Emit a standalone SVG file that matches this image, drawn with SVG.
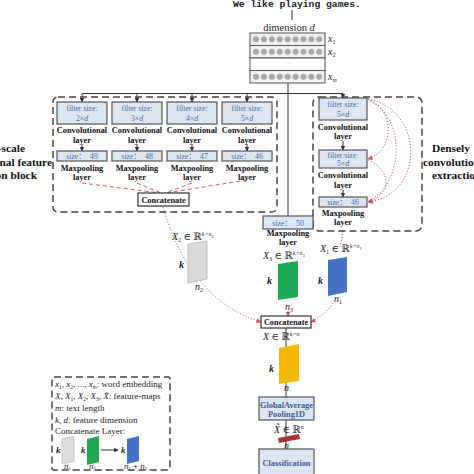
<svg xmlns="http://www.w3.org/2000/svg" width="474" height="474" viewBox="0 0 474 474">
<defs>
<style>
.fb{fill:#dce6f2;stroke:#555;stroke-width:1.2}
.ft{font-family:"Liberation Serif","DejaVu Serif","Noto Sans CJK SC",serif;font-size:7.8px;fill:#4a6a9e;text-anchor:middle}
.bl{font-family:"Liberation Serif","DejaVu Serif",serif;font-size:8.3px;font-weight:bold;fill:#111;text-anchor:middle}
.bb{font-family:"Liberation Serif","DejaVu Serif",serif;font-size:8.3px;font-weight:bold;fill:#3c5a96;text-anchor:middle}
.side{font-family:"Liberation Serif","DejaVu Serif",serif;font-size:11.4px;font-weight:bold;fill:#111}
.ln{stroke:#333;stroke-width:1;fill:none}
.rd{stroke:#c55a5a;stroke-width:1;stroke-dasharray:4 3;fill:none}
.rdt{stroke:#c55a5a;stroke-width:1;stroke-dasharray:1.2 1.8;fill:none}
.dbox{fill:none;stroke:#444;stroke-width:1.5;stroke-dasharray:7 4}
.m{font-family:"Liberation Serif","DejaVu Serif",serif;font-style:italic;font-size:10px;fill:#222}
.lg{font-family:"Liberation Serif","DejaVu Serif",serif;font-size:9px;fill:#222}
.cc{fill:#fff;stroke:#333;stroke-width:1.2}
.dot{fill:#a9a9a9}
.row{fill:#f2f2f2;stroke:#555;stroke-width:1}
</style>
<marker id="ah" markerWidth="5" markerHeight="5" refX="4.5" refY="2.5" orient="auto" markerUnits="userSpaceOnUse"><path d="M0,0 L5,2.5 L0,5 z" fill="#333"/></marker>
<marker id="rh" markerWidth="5" markerHeight="5" refX="4.5" refY="2.5" orient="auto" markerUnits="userSpaceOnUse"><path d="M0,0 L5,2.5 L0,5 z" fill="#c55a5a"/></marker>
</defs>
<rect width="474" height="474" fill="#fff"/>

<g id="input">
<text x="233" y="7" font-family="Liberation Mono, monospace" font-size="9.7" font-weight="bold" fill="#222">We like playing games.</text>
<line class="ln" x1="292" y1="10" x2="292" y2="20"/>
<text x="289" y="31" font-family="Liberation Serif, serif" font-size="10.5" text-anchor="middle" fill="#222">dimension <tspan font-style="italic">d</tspan></text>
</g>

<g id="embedding">
<rect class="row" x="250" y="33" width="75" height="12.5"/>
<rect class="row" x="250" y="45.5" width="75" height="12.5"/>
<rect x="250" y="58" width="75" height="12.5" fill="#fff" stroke="#555"/>
<rect class="row" x="250" y="70.5" width="75" height="12.5"/>
<g class="dot">
<circle cx="256" cy="39.3" r="3"/><circle cx="263.9" cy="39.3" r="3"/><circle cx="271.8" cy="39.3" r="3"/><circle cx="279.7" cy="39.3" r="3"/><circle cx="287.6" cy="39.3" r="3"/><circle cx="295.5" cy="39.3" r="3"/><circle cx="303.4" cy="39.3" r="3"/><circle cx="311.3" cy="39.3" r="3"/><circle cx="319.2" cy="39.3" r="3"/>
<circle cx="256" cy="51.8" r="3"/><circle cx="263.9" cy="51.8" r="3"/><circle cx="271.8" cy="51.8" r="3"/><circle cx="279.7" cy="51.8" r="3"/><circle cx="287.6" cy="51.8" r="3"/><circle cx="295.5" cy="51.8" r="3"/><circle cx="303.4" cy="51.8" r="3"/><circle cx="311.3" cy="51.8" r="3"/><circle cx="319.2" cy="51.8" r="3"/>
<circle cx="256" cy="76.8" r="3"/><circle cx="263.9" cy="76.8" r="3"/><circle cx="271.8" cy="76.8" r="3"/><circle cx="279.7" cy="76.8" r="3"/><circle cx="287.6" cy="76.8" r="3"/><circle cx="295.5" cy="76.8" r="3"/><circle cx="303.4" cy="76.8" r="3"/><circle cx="311.3" cy="76.8" r="3"/><circle cx="319.2" cy="76.8" r="3"/>
</g>
<text x="288" y="66" font-family="Liberation Serif, serif" font-size="6" fill="#bbb" text-anchor="middle">···</text>
<text class="m" x="328" y="42">x<tspan font-size="6" font-style="normal" dy="2">1</tspan></text>
<text class="m" x="328" y="55">x<tspan font-size="6" font-style="normal" dy="2">2</tspan></text>
<text class="m" x="328" y="80">x<tspan font-size="6" dy="2">m</tspan></text>
</g>

<g id="connectors">
<line class="ln" x1="288" y1="83" x2="288" y2="216"/>
<line class="ln" x1="82" y1="93.5" x2="343" y2="93.5"/>
<line class="ln" x1="82" y1="93.5" x2="82" y2="102" marker-end="url(#ah)"/>
<line class="ln" x1="137" y1="93.5" x2="137" y2="102" marker-end="url(#ah)"/>
<line class="ln" x1="192" y1="93.5" x2="192" y2="102" marker-end="url(#ah)"/>
<line class="ln" x1="247" y1="93.5" x2="247" y2="102" marker-end="url(#ah)"/>
<line class="ln" x1="343" y1="93.5" x2="343" y2="98" marker-end="url(#ah)"/>
<line class="ln" x1="82" y1="144" x2="82" y2="151" marker-end="url(#ah)"/>
<line class="ln" x1="137" y1="144" x2="137" y2="151" marker-end="url(#ah)"/>
<line class="ln" x1="192" y1="144" x2="192" y2="151" marker-end="url(#ah)"/>
<line class="ln" x1="247" y1="144" x2="247" y2="151" marker-end="url(#ah)"/>
<line class="ln" x1="343" y1="141" x2="343" y2="150" marker-end="url(#ah)"/>
<line class="ln" x1="343" y1="190" x2="343" y2="197" marker-end="url(#ah)"/>
<path class="rd" d="M82,183 L160,193"/>
<path class="rd" d="M137,183 L161,193"/>
<path class="rd" d="M192,183 L165,193"/>
<path class="rd" d="M247,180 L166,193"/>
<path class="rdt" d="M368,99 C395,110 395,150 368,159" marker-end="url(#rh)"/>
<path class="rdt" d="M368,99 C425,110 425,195 368,202" marker-end="url(#rh)"/>
<path class="rdt" d="M370,101 C408,120 402,185 369,201"/>
<path class="rdt" d="M368,160 C392,170 392,195 368,202" marker-end="url(#rh)"/>
<path class="rdt" d="M163,207 Q190,300 261,322" marker-end="url(#rh)"/>
<path class="rdt" d="M343,231 L340,248"/>
<path class="rdt" d="M288,311 L288,316" marker-end="url(#rh)"/>
<path class="rdt" d="M333,303 Q325,315 311,322" marker-end="url(#rh)"/>
<line class="ln" x1="286" y1="328" x2="286" y2="347"/>
<line class="ln" x1="286" y1="383" x2="286" y2="397"/>
<line class="ln" x1="286" y1="420" x2="286" y2="449"/>
</g>

<g id="multiscale-block">
<rect class="dbox" x="53" y="97" width="224" height="115" rx="5"/>
<text class="side" x="25" y="152" text-anchor="end">Multi-scale</text>
<text class="side" x="52" y="166" text-anchor="end">convolutional feature</text>
<text class="side" x="37" y="179" text-anchor="end">extraction block</text>
</g>

<g id="conv2">
<rect class="fb" x="57" y="102" width="50" height="22"/>
<text class="ft" x="82" y="111">filter size:</text>
<text class="ft" x="82" y="120.5">2×<tspan font-style="italic">d</tspan></text>
<text class="bl" x="82" y="133">Convolutional</text>
<text class="bl" x="82" y="142.5">layer</text>
<rect class="fb" x="57" y="151" width="50" height="10"/>
<text class="ft" x="82" y="159" xml:space="preserve">size：  49</text>
<text class="bl" x="82" y="171">Maxpooling</text>
<text class="bl" x="82" y="180">layer</text>
</g>
<g id="conv3">
<rect class="fb" x="112" y="102" width="50" height="22"/>
<text class="ft" x="137" y="111">filter size:</text>
<text class="ft" x="137" y="120.5">3×<tspan font-style="italic">d</tspan></text>
<text class="bl" x="137" y="133">Convolutional</text>
<text class="bl" x="137" y="142.5">layer</text>
<rect class="fb" x="112" y="151" width="50" height="10"/>
<text class="ft" x="137" y="159" xml:space="preserve">size：  48</text>
<text class="bl" x="137" y="171">Maxpooling</text>
<text class="bl" x="137" y="180">layer</text>
</g>
<g id="conv4">
<rect class="fb" x="167" y="102" width="50" height="22"/>
<text class="ft" x="192" y="111">filter size:</text>
<text class="ft" x="192" y="120.5">4×<tspan font-style="italic">d</tspan></text>
<text class="bl" x="192" y="133">Convolutional</text>
<text class="bl" x="192" y="142.5">layer</text>
<rect class="fb" x="167" y="151" width="50" height="10"/>
<text class="ft" x="192" y="159" xml:space="preserve">size：  47</text>
<text class="bl" x="192" y="171">Maxpooling</text>
<text class="bl" x="192" y="180">layer</text>
</g>
<g id="conv5">
<rect class="fb" x="222" y="102" width="50" height="22"/>
<text class="ft" x="247" y="111">filter size:</text>
<text class="ft" x="247" y="120.5">5×<tspan font-style="italic">d</tspan></text>
<text class="bl" x="247" y="133">Convolutional</text>
<text class="bl" x="247" y="142.5">layer</text>
<rect class="fb" x="222" y="151" width="50" height="10"/>
<text class="ft" x="247" y="159" xml:space="preserve">size：  46</text>
<text class="bl" x="247" y="171">Maxpooling</text>
<text class="bl" x="247" y="180">layer</text>
</g>
<g id="concat-left">
<rect class="cc" x="138" y="193" width="51" height="13"/>
<text class="bl" x="163.5" y="202.5">Concatenate</text>
</g>

<g id="dense-block">
<rect class="dbox" x="313" y="97" width="109" height="134" rx="6"/>
<text class="side" x="432" y="152">Densely</text>
<text class="side" x="423" y="166">convolutional feature</text>
<text class="side" x="432" y="179">extraction block</text>
<rect class="fb" x="319" y="98" width="48" height="22"/>
<text class="ft" x="343" y="107">filter size:</text>
<text class="ft" x="343" y="116.5">5×<tspan font-style="italic">d</tspan></text>
<text class="bl" x="343" y="130">Convolutional</text>
<text class="bl" x="343" y="139">layer</text>
<rect class="fb" x="319" y="150" width="48" height="18"/>
<text class="ft" x="343" y="158">filter size:</text>
<text class="ft" x="343" y="165.5">5×<tspan font-style="italic">d</tspan></text>
<text class="bl" x="343" y="178">Convolutional</text>
<text class="bl" x="343" y="187.5">layer</text>
<rect class="fb" x="319" y="197" width="48" height="10"/>
<text class="ft" x="343" y="205" xml:space="preserve">size：  46</text>
<text class="bl" x="343" y="215.5">Maxpooling</text>
<text class="bl" x="343" y="224.5">layer</text>
</g>

<g id="maxpool50">
<rect class="fb" x="263" y="216" width="50" height="13"/>
<text class="ft" x="288" y="225.5" xml:space="preserve">size：  50</text>
<text class="bl" x="288" y="236">Maxpooling</text>
<text class="bl" x="288" y="245">layer</text>
</g>

<g id="map-x2">
<polygon points="188,244 207,241 207,279 188,283" fill="#d9d9d9" stroke="#bdbdbd"/>
<text class="m" x="172" y="240">X<tspan font-size="6" font-style="normal" dy="2">2</tspan><tspan font-style="normal" dy="-2"> ∈ ℝ</tspan><tspan font-size="6" dy="-4">k×n</tspan><tspan font-size="4.5" font-style="normal" dy="1.5">2</tspan></text>
<text class="m" x="179" y="268" font-weight="bold">k</text>
<text class="m" x="195" y="290">n<tspan font-size="6" font-style="normal" dy="2">2</tspan></text>
</g>
<g id="map-x3">
<polygon points="278,264 298,261 298,297 278,300" fill="#1fa84f"/>
<text class="m" x="263" y="259">X<tspan font-size="6" font-style="normal" dy="2">3</tspan><tspan font-style="normal" dy="-2"> ∈ ℝ</tspan><tspan font-size="6" dy="-4">k×n</tspan><tspan font-size="4.5" font-style="normal" dy="1.5">3</tspan></text>
<text class="m" x="267" y="284" font-weight="bold">k</text>
<text class="m" x="285" y="310">n<tspan font-size="6" font-style="normal" dy="2">3</tspan></text>
</g>
<g id="map-x1">
<polygon points="328,260 347,257 347,292 328,296" fill="#4472c4"/>
<text class="m" x="320" y="252">X<tspan font-size="6" font-style="normal" dy="2">1</tspan><tspan font-style="normal" dy="-2"> ∈ ℝ</tspan><tspan font-size="6" dy="-4">k×n</tspan><tspan font-size="4.5" font-style="normal" dy="1.5">1</tspan></text>
<text class="m" x="318" y="284" font-weight="bold">k</text>
<text class="m" x="334" y="302">n<tspan font-size="6" font-style="normal" dy="2">1</tspan></text>
</g>

<g id="concat-main">
<rect class="cc" x="261" y="316" width="50" height="12"/>
<text class="bl" x="286" y="325">Concatenate</text>
</g>
<g id="map-x">
<polygon points="279,348 299,344 299,381 279,384" fill="#f5b700"/>
<text class="m" x="263" y="340">X<tspan font-style="normal"> ∈ ℝ</tspan><tspan font-size="6" dy="-4">k×n</tspan></text>
<text class="m" x="269" y="372" font-weight="bold">k</text>
<text class="m" x="284" y="391">n</text>
</g>
<g id="gap">
<rect class="fb" x="259" y="397" width="55" height="23"/>
<text class="bb" x="286.5" y="407.5">GlobalAverage</text>
<text class="bb" x="286.5" y="417">Pooling1D</text>
</g>
<g id="vec">
<text class="m" x="274" y="433">X̃<tspan font-style="normal"> ∈ ℝ</tspan><tspan font-size="6" dy="-4">n</tspan></text>
<polygon points="278,438 299,434 300,439 279,443" fill="#a8323a"/>
<text class="m" x="284" y="449">n</text>
</g>
<g id="classification">
<rect class="fb" x="259" y="449" width="55" height="30"/>
<text class="bb" x="286.5" y="466">Classification</text>
</g>

<g id="legend">
<rect class="dbox" x="52" y="377" width="118" height="93" rx="2"/>
<text class="lg" x="55" y="387"><tspan font-style="italic">x</tspan><tspan font-size="5.5" dy="1.5">1</tspan><tspan dy="-1.5">, </tspan><tspan font-style="italic">x</tspan><tspan font-size="5.5" dy="1.5">2</tspan><tspan dy="-1.5">, ..., </tspan><tspan font-style="italic">x</tspan><tspan font-size="5.5" font-style="italic" dy="1.5">m</tspan><tspan dy="-1.5">: word embedding</tspan></text>
<text class="lg" x="55" y="399"><tspan font-style="italic">X</tspan>, <tspan font-style="italic">X</tspan><tspan font-size="5.5" dy="1.5">1</tspan><tspan dy="-1.5">, </tspan><tspan font-style="italic">X</tspan><tspan font-size="5.5" dy="1.5">2</tspan><tspan dy="-1.5">, </tspan><tspan font-style="italic">X</tspan><tspan font-size="5.5" dy="1.5">3</tspan><tspan dy="-1.5">, </tspan><tspan font-style="italic">X̃</tspan>: feature-maps</text>
<text class="lg" x="55" y="411"><tspan font-style="italic">m</tspan>: text length</text>
<text class="lg" x="55" y="423"><tspan font-style="italic">k</tspan>, <tspan font-style="italic">d</tspan>: feature dimension</text>
<text class="lg" x="55" y="434">Concatenate Layer:</text>
<polygon points="62,439 74,436 74,461 62,464" fill="#dedede" stroke="#c8c8c8"/>
<polygon points="87,439 99,436 99,462 87,465" fill="#1fa84f"/>
<polygon points="127,439 139,436 139,461 127,464" fill="#4472c4"/>
<line class="ln" x1="101" y1="450" x2="118" y2="450" marker-end="url(#ah)"/>
<text class="lg" x="56" y="453" font-size="6" font-style="italic" font-weight="bold">k</text>
<text class="lg" x="81" y="453" font-size="6" font-style="italic" font-weight="bold">k</text>
<text class="lg" x="121" y="453" font-size="6" font-style="italic" font-weight="bold">k</text>
<text class="lg" x="64" y="469" font-size="6"><tspan font-style="italic">n</tspan><tspan font-size="4.5" dy="1">1</tspan></text>
<text class="lg" x="89" y="469" font-size="6"><tspan font-style="italic">n</tspan><tspan font-size="4.5" dy="1">2</tspan></text>
<text class="lg" x="124" y="469" font-size="6"><tspan font-style="italic">n</tspan><tspan font-size="4.5" dy="1">1</tspan><tspan dy="-1"> + </tspan><tspan font-style="italic">n</tspan><tspan font-size="4.5" dy="1">2</tspan></text>
</g>
</svg>
